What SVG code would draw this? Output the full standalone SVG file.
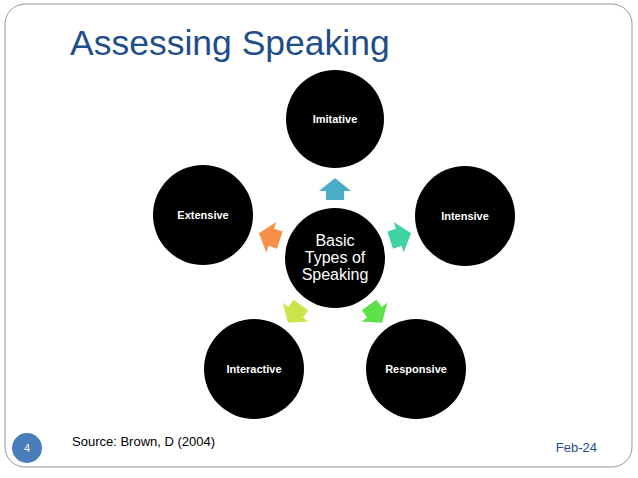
<svg xmlns="http://www.w3.org/2000/svg" width="638" height="478" viewBox="0 0 638 478">
<style>
.n{fill:#000}
.t{font-family:"Liberation Sans",Arial,sans-serif;font-weight:bold;font-size:11px;fill:#fff;text-anchor:middle}
.c{font-family:"Liberation Sans",Arial,sans-serif;font-size:16px;fill:#fff;text-anchor:middle}
</style>
<defs><polygon id="ar" points="-9,11 9,11 9,2 16,2 0,-11 -16,2 -9,2"/></defs>
<rect x="5" y="4" width="627" height="463" rx="20" fill="#fff" stroke="#999" stroke-width="1"/>
<text x="70" y="55" font-family="Liberation Sans,Arial,sans-serif" font-size="35.5" fill="#1f4e8c">Assessing Speaking</text>
<g id="connectors">
<use href="#ar" fill="#4bacc6" transform="translate(335,258) rotate(0) translate(0,-69)"/>
<use href="#ar" fill="#3fd3a0" transform="translate(335,258) rotate(72) translate(0,-69)"/>
<use href="#ar" fill="#5ee04a" transform="translate(335,258) rotate(144) translate(0,-69)"/>
<use href="#ar" fill="#cde54a" transform="translate(335,258) rotate(216) translate(0,-69)"/>
<use href="#ar" fill="#f7914a" transform="translate(335,258) rotate(288) translate(0,-69)"/>
</g>
<g id="center"><circle class="n" cx="335" cy="258" r="50"/>
<text class="c" x="335" y="246">Basic</text><text class="c" x="335" y="263">Types of</text><text class="c" x="335" y="280">Speaking</text></g>
<g id="imitative"><circle class="n" cx="335" cy="119" r="49"/><text class="t" x="335" y="123">Imitative</text></g>
<g id="intensive"><circle class="n" cx="465" cy="216" r="50"/><text class="t" x="465" y="220">Intensive</text></g>
<g id="responsive"><circle class="n" cx="416" cy="369" r="50"/><text class="t" x="416" y="373">Responsive</text></g>
<g id="interactive"><circle class="n" cx="254" cy="369" r="50"/><text class="t" x="254" y="373">Interactive</text></g>
<g id="extensive"><circle class="n" cx="203" cy="215" r="50"/><text class="t" x="203" y="219">Extensive</text></g>
<circle cx="27" cy="448" r="15" fill="#4a7ebb"/>
<text x="27" y="452" font-family="Liberation Sans,Arial,sans-serif" font-size="11" fill="#fff" text-anchor="middle">4</text>
<text x="72" y="446" font-family="Liberation Sans,Arial,sans-serif" font-size="13" fill="#000">Source:  Brown, D (2004)</text>
<text x="597" y="452" font-family="Liberation Sans,Arial,sans-serif" font-size="13" fill="#1f4e8c" text-anchor="end">Feb-24</text>
</svg>
